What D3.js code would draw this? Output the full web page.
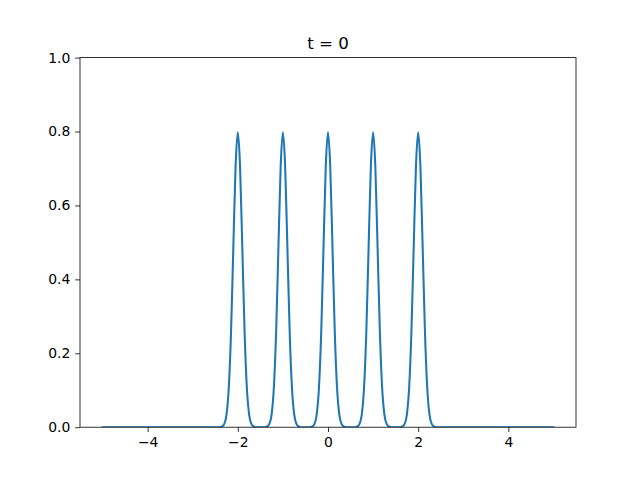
<!DOCTYPE html>
<html>
<head>
<meta charset="utf-8">
<script src="https://cdn.jsdelivr.net/npm/d3@7"></script>
<style>
	body { margin: 0; background: #fff; }
	text { font-family: "DejaVu Sans", sans-serif; fill: #000; }
</style>
</head>
<body>
<div id="chart"></div>
<script>
// values
var xValues = [
	-5,
	-2.4, -2.35, -2.3, -2.25, -2.2, -2.15, -2.1, -2.05, -2, -1.95, -1.9, -1.85, -1.8, -1.75, -1.7, -1.65, -1.6,
	-1.4, -1.35, -1.3, -1.25, -1.2, -1.15, -1.1, -1.05, -1, -0.95, -0.9, -0.85, -0.8, -0.75, -0.7, -0.65, -0.6,
	-0.4, -0.35, -0.3, -0.25, -0.2, -0.15, -0.1, -0.05, 0, 0.05, 0.1, 0.15, 0.2, 0.25, 0.3, 0.35, 0.4,
	0.6, 0.65, 0.7, 0.75, 0.8, 0.85, 0.9, 0.95, 1, 1.05, 1.1, 1.15, 1.2, 1.25, 1.3, 1.35, 1.4,
	1.6, 1.65, 1.7, 1.75, 1.8, 1.85, 1.9, 1.95, 2, 2.05, 2.1, 2.15, 2.2, 2.25, 2.3, 2.35, 2.4,
	5
]
var yValues = [
	0,
	0, 0.002, 0.009, 0.035, 0.108, 0.259, 0.484, 0.704, 0.798, 0.704, 0.484, 0.259, 0.108, 0.035, 0.009, 0.002, 0,
	0, 0.002, 0.009, 0.035, 0.108, 0.259, 0.484, 0.704, 0.798, 0.704, 0.484, 0.259, 0.108, 0.035, 0.009, 0.002, 0,
	0, 0.002, 0.009, 0.035, 0.108, 0.259, 0.484, 0.704, 0.798, 0.704, 0.484, 0.259, 0.108, 0.035, 0.009, 0.002, 0,
	0, 0.002, 0.009, 0.035, 0.108, 0.259, 0.484, 0.704, 0.798, 0.704, 0.484, 0.259, 0.108, 0.035, 0.009, 0.002, 0,
	0, 0.002, 0.009, 0.035, 0.108, 0.259, 0.484, 0.704, 0.798, 0.704, 0.484, 0.259, 0.108, 0.035, 0.009, 0.002, 0,
	0
]
var xTicks = [-4, -2, 0, 2, 4]
var yTicks = [0, 0.2, 0.4, 0.6, 0.8, 1.0]
var title = "t = 0"

var fullWidth = 640
var fullHeight = 480
var margin = {top: 57.6, right: 64, bottom: 52.8, left: 80}
var width = fullWidth - margin.left - margin.right
var height = fullHeight - margin.top - margin.bottom
var tickSize = 4.86
var tickPad = 4.86

var svg = d3.select("#chart")
	.append("svg")
	.attr("width", fullWidth)
	.attr("height", fullHeight)

var g = svg.append("g")
	.attr("transform", `translate(${margin.left},${margin.top})`)

var xScale = d3.scaleLinear()
	.domain([-5.5, 5.5])
	.range([0, width])

var yScale = d3.scaleLinear()
	.domain([0, 1])
	.range([height, 0])

g.append("defs").append("clipPath")
	.attr("id", "clip")
	.append("rect")
	.attr("width", width)
	.attr("height", height)

var points = xValues.map((x, i) => ({x: x, y: yValues[i]}))

var lineGenerator = d3.line()
	.x(d => xScale(d.x))
	.y(d => yScale(d.y))
	.curve(d3.curveMonotoneX)

g.append("path")
	.datum(points)
	.attr("clip-path", "url(#clip)")
	.attr("d", lineGenerator)
	.attr("fill", "none")
	.attr("stroke", "#1f77b4")
	.attr("stroke-width", 2.08)
	.attr("stroke-linejoin", "round")
	.attr("stroke-linecap", "square")

var xAxis = d3.axisBottom(xScale)
	.tickValues(xTicks)
	.tickFormat(d => d < 0 ? "\u2212" + Math.abs(d) : d)
	.tickSize(tickSize)
	.tickPadding(tickPad)

var yAxis = d3.axisLeft(yScale)
	.tickValues(yTicks)
	.tickFormat(d3.format(".1f"))
	.tickSize(tickSize)
	.tickPadding(tickPad)

g.append("g")
	.attr("class", "x axis")
	.attr("transform", `translate(0,${height})`)
	.call(xAxis)

g.append("g")
	.attr("class", "y axis")
	.call(yAxis)

g.selectAll(".axis .domain").remove()
g.selectAll(".axis line").attr("stroke", "#000").attr("stroke-width", 0.8)
g.selectAll(".axis text")
	.style("font-family", "DejaVu Sans, sans-serif")
	.style("font-size", "13.9px")
	.attr("fill", "#000")

// frame
g.append("rect")
	.attr("width", width)
	.attr("height", height)
	.attr("fill", "none")
	.attr("stroke", "#000")
	.attr("stroke-width", 0.8)

svg.append("text")
	.attr("x", margin.left + width / 2)
	.attr("y", margin.top - 8.3)
	.attr("text-anchor", "middle")
	.style("font-size", "16.67px")
	.text(title)
</script>
</body>
</html>
